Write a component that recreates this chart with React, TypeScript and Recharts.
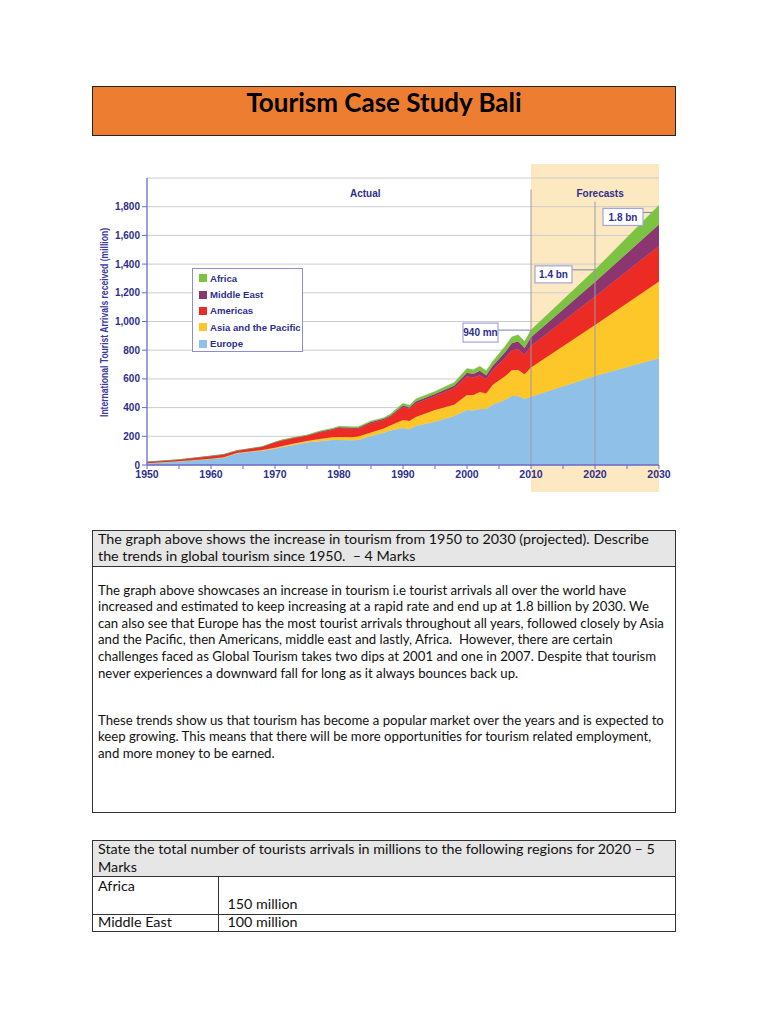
import React from 'react';
import {
  ComposedChart,
  Area,
  XAxis,
  YAxis,
  CartesianGrid,
  ReferenceLine,
  ReferenceDot,
  ReferenceArea,
  Legend,
} from 'recharts';

// ---------- data (millions of international tourist arrivals) ----------
const years = [
  1950, 1955, 1960, 1962, 1964, 1966, 1968, 1970, 1971, 1973, 1975, 1977, 1979, 1980,
  1982, 1983, 1985, 1987, 1988, 1990, 1991, 1992, 1995, 1998, 2000, 2001, 2002, 2003,
  2004, 2006, 2007, 2008, 2009, 2010, 2020, 2030,
];
const europe = [
  12, 25, 42, 51, 80, 90, 100, 114, 124, 140, 156, 165, 174, 175,
  172, 175, 202, 225, 240, 258, 249, 272, 302, 342, 384, 380, 390, 390,
  420, 455, 480, 480, 460, 475, 620, 744,
];
const asiaPacific = [
  1, 1.5, 2, 2.5, 3, 4, 5, 6, 7, 9, 12, 16, 19, 20,
  22, 23, 25, 30, 35, 56, 57, 62, 82, 77, 104, 108, 118, 108,
  138, 165, 180, 182, 172, 204, 355, 535,
];
const americas = [
  7, 9.5, 17, 18.5, 15, 18, 20, 36, 38, 38, 35, 46, 52, 62,
  59, 55, 64, 59, 61, 90, 86, 94, 97, 115, 128, 122, 118, 100,
  102, 128, 140, 145, 134, 150, 199, 248,
];
const middleEast = [
  0.5, 0.5, 1, 1, 1, 1, 1.5, 2, 2.5, 3, 3, 5, 5.5, 6.5,
  7, 7, 8, 8, 8, 11, 9, 14, 13, 18, 27, 25, 31, 28,
  30, 42, 48, 54, 50, 61, 101, 149,
];
const africa = [
  0.5, 0.5, 1, 1, 1, 1, 1.5, 2, 2.5, 3, 3, 5, 5.5, 6.5,
  7, 7, 8, 8, 9, 15, 15, 18, 18, 23, 29, 28, 31, 30,
  31, 40, 44, 46, 44, 50, 85, 134,
];

const seriesKeys = ['europe', 'asia', 'americas', 'middleEast', 'africa'];
const seriesNames = ['Europe', 'Asia and the Pacific', 'Americas', 'Middle East', 'Africa'];
const seriesColors = ['#8fc1e8', '#fdc72a', '#ec2b25', '#8b3671', '#7cc243'];
const seriesValues = [europe, asiaPacific, americas, middleEast, africa];

const yTicks = [0, 200, 400, 600, 800, 1000, 1200, 1400, 1600, 1800];
const xTicks = [
  1950, 1955, 1960, 1965, 1970, 1975, 1980, 1985, 1990, 1995, 2000, 2005, 2010, 2015,
  2020, 2025, 2030,
];
const forecastStart = 2010;
const forecastEnd = 2030;
const callouts = [
  { year: 2010, value: 940, text: '940 mn', boxW: 35, gap: 33, endGap: 0, boxDy: -7, boxH: 19 },
  { year: 2020, value: 1360, text: '1.4 bn', boxW: 37, gap: 23, endGap: 0, boxDy: -4, boxH: 17 },
  { year: 2030, value: 1760, text: '1.8 bn', boxW: 40, gap: 16, endGap: 7, boxDy: -4, boxH: 17 },
];
const periodLabels = [
  { year: 1984.1, value: 1865, text: 'Actual' },
  { year: 2020.8, value: 1865, text: 'Forecasts' },
];

const data = years.map((y, i) => {
  const row: any = { year: y };
  seriesKeys.forEach((k, s) => {
    row[k] = seriesValues[s][i];
  });
  return row;
});

const NAVY = '#2e2f8c';
const AXIS = '#6b6bc8';
const CHART_FONT = '"Liberation Sans", Arial, sans-serif';
const DOC_FONT = 'Lato, "Open Sans", sans-serif';

const renderLegend = (props: any) => {
  const payload = props.payload || [];
  // legend order: top of stack first
  const items = seriesNames
    .map((n, i) => {
      const p = payload.find((it: any) => it.value === n);
      return { value: n, color: (p && p.color) || seriesColors[i] };
    })
    .reverse();
  return (
    <div
      style={{
        width: 111,
        height: 84,
        boxSizing: 'border-box',
        border: '1px solid #8d8dd4',
        background: '#ffffff',
        paddingTop: 1,
        fontFamily: CHART_FONT,
        fontWeight: 700,
        fontSize: 9.6,
        color: NAVY,
        whiteSpace: 'nowrap',
        textAlign: 'left',
      }}
    >
      {items.map((it: any) => (
        <div key={it.value} style={{ height: 16.4, display: 'flex', alignItems: 'center' }}>
          <span
            style={{
              display: 'inline-block',
              flex: '0 0 auto',
              width: 8,
              height: 8,
              background: it.color,
              marginLeft: 6,
              marginRight: 3,
            }}
          />
          <span>{it.value}</span>
        </div>
      ))}
    </div>
  );
};

const makeCallout = (c: any) => (p: any) => {
  const { cx, cy } = p;
  if (cx == null || cy == null) return <g />;
  const right = cx - c.gap;
  const left = right - c.boxW;
  return (
    <g>
      <line x1={right} y1={cy} x2={cx - c.endGap} y2={cy} stroke="#7f7fae" strokeWidth={1} />
      <rect
        x={left}
        y={cy + c.boxDy}
        width={c.boxW}
        height={c.boxH}
        fill="#ffffff"
        stroke="#a4a4da"
        strokeWidth={1.2}
      />
      <text
        x={left + c.boxW / 2}
        y={cy + c.boxDy + c.boxH / 2 + 3.6}
        textAnchor="middle"
        fontFamily={CHART_FONT}
        fontWeight={700}
        fontSize={10}
        fill={NAVY}
      >
        {c.text}
      </text>
    </g>
  );
};

const makePeriodLabel = (l: any) => (p: any) => {
  const { cx, cy } = p;
  if (cx == null || cy == null) return <g />;
  return (
    <text
      x={cx}
      y={cy}
      textAnchor="middle"
      fontFamily={CHART_FONT}
      fontWeight={700}
      fontSize={10}
      fill={NAVY}
    >
      {l.text}
    </text>
  );
};

const ForecastShade = (p: any) => {
  const { x, y, width, height } = p;
  if (x == null) return <g />;
  return <rect x={x} y={y - 14} width={width} height={height + 41} fill="#fde9c1" />;
};

const Chart = () => (
  <ComposedChart
    width={600}
    height={340}
    data={data}
    margin={{ top: 18, right: 31, bottom: 5, left: 12 }}
    style={{ fontFamily: CHART_FONT }}
  >
    <ReferenceArea
      x1={forecastStart}
      x2={forecastEnd}
      y1={0}
      y2={2000}
      ifOverflow="visible"
      shape={ForecastShade}
      zIndex={-200}
    />
    <CartesianGrid vertical={false} stroke="#cccccc" strokeWidth={1} />
    <XAxis
      dataKey="year"
      type="number"
      domain={[1950, 2030]}
      ticks={xTicks}
      interval={0}
      height={30}
      tickSize={4}
      tickMargin={2}
      tickFormatter={(v: number) => (v % 10 === 0 ? String(v) : '')}
      axisLine={{ stroke: AXIS, strokeWidth: 1.3 }}
      tickLine={{ stroke: AXIS }}
      tick={{ fill: NAVY, fontSize: 10.5, fontWeight: 700 }}
    />
    <YAxis
      type="number"
      domain={[0, 2000]}
      ticks={yTicks}
      interval={0}
      width={45}
      tickSize={5}
      tickMargin={2}
      tickFormatter={(v: number) => v.toLocaleString('en-US')}
      axisLine={{ stroke: AXIS, strokeWidth: 1.3 }}
      tickLine={{ stroke: AXIS }}
      tick={{ fill: NAVY, fontSize: 10, fontWeight: 700 }}
    />
    {seriesKeys.map((k, i) => (
      <Area
        key={k}
        type="linear"
        dataKey={k}
        name={seriesNames[i]}
        stackId="tourism"
        fill={seriesColors[i]}
        fillOpacity={1}
        stroke={seriesColors[i]}
        strokeWidth={0.5}
        isAnimationActive={false}
        dot={false}
        activeDot={false}
      />
    ))}
    <ReferenceLine
      segment={[
        { x: 2010, y: 1920 },
        { x: 2010, y: 0 },
      ]}
      stroke="#9b9b9b"
      strokeWidth={1}
    />
    <ReferenceLine
      segment={[
        { x: 2020, y: 1835 },
        { x: 2020, y: 0 },
      ]}
      stroke="#9b9b9b"
      strokeWidth={1}
    />
    {callouts.map((c) => (
      <ReferenceDot key={c.text} x={c.year} y={c.value} r={1} shape={makeCallout(c)} ifOverflow="visible" />
    ))}
    {periodLabels.map((l) => (
      <ReferenceDot key={l.text} x={l.year} y={l.value} r={1} shape={makePeriodLabel(l)} ifOverflow="visible" />
    ))}
    <Legend
      layout="vertical"
      align="center"
      verticalAlign="middle"
      content={renderLegend}
      wrapperStyle={{ left: 102, top: 108, width: 111, height: 84 }}
    />
  </ComposedChart>
);

// ---------- document text ----------
const questionLines1 = [
  'The graph above shows the increase in tourism from 1950 to 2030 (projected). Describe',
  'the trends in global tourism since 1950.  \u2013 4 Marks',
];
const answerLines = [
  'The graph above showcases an increase in tourism i.e tourist arrivals all over the world have',
  'increased and estimated to keep increasing at a rapid rate and end up at 1.8 billion by 2030. We',
  'can also see that Europe has the most tourist arrivals throughout all years, followed closely by Asia',
  'and the Pacific, then Americans, middle east and lastly, Africa.  However, there are certain',
  'challenges faced as Global Tourism takes two dips at 2001 and one in 2007. Despite that tourism',
  'never experiences a downward fall for long as it always bounces back up.',
  'These trends show us that tourism has become a popular market over the years and is expected to',
  'keep growing. This means that there will be more opportunities for tourism related employment,',
  'and more money to be earned.',
];
const answerBaselines = [594.5, 611.1, 627.7, 644.3, 660.9, 677.5, 724.5, 741.1, 757.7];
const questionLines2 = [
  'State the total number of tourists arrivals in millions to the following regions for 2020 \u2013 5',
  'Marks',
];
const regionRows = ['Africa', 'Middle East'];
const regionAnswers = ['150 million', '100 million'];

const BOX_L = 92;
const BOX_W = 584;

export default function App() {
  return (
    <div
      style={{
        position: 'absolute',
        left: 0,
        top: 0,
        width: 768,
        height: 1024,
        background: '#ffffff',
        overflow: 'hidden',
      }}
    >
      {/* title box */}
      <div
        style={{
          position: 'absolute',
          left: BOX_L,
          top: 86,
          width: BOX_W,
          height: 50,
          boxSizing: 'border-box',
          border: '1px solid #222',
          background: '#ed7d31',
        }}
      />
      {/* question 1 box */}
      <div
        style={{
          position: 'absolute',
          left: BOX_L,
          top: 530,
          width: BOX_W,
          height: 37,
          boxSizing: 'border-box',
          border: '1px solid #333',
          background: '#e7e6e6',
        }}
      />
      <div
        style={{
          position: 'absolute',
          left: BOX_L,
          top: 566,
          width: BOX_W,
          height: 247,
          boxSizing: 'border-box',
          border: '1px solid #333',
          background: '#ffffff',
        }}
      />
      {/* question 2 table */}
      <div
        style={{
          position: 'absolute',
          left: BOX_L,
          top: 840,
          width: BOX_W,
          height: 37,
          boxSizing: 'border-box',
          border: '1px solid #333',
          background: '#e7e6e6',
        }}
      />
      <div
        style={{
          position: 'absolute',
          left: BOX_L,
          top: 876,
          width: BOX_W,
          height: 56,
          boxSizing: 'border-box',
          border: '1px solid #333',
          borderTop: 'none',
        }}
      />
      <div style={{ position: 'absolute', left: BOX_L, top: 913.5, width: BOX_W, height: 1, background: '#333' }} />
      <div style={{ position: 'absolute', left: 218, top: 876, width: 1, height: 56, background: '#333' }} />

      {/* chart */}
      <div style={{ position: 'absolute', left: 90, top: 160, width: 600, height: 340 }}>
        <Chart />
      </div>

      {/* text overlay */}
      <svg
        width={768}
        height={1024}
        style={{ position: 'absolute', left: 0, top: 0, pointerEvents: 'none' }}
      >
        <text
          x={384}
          y={112}
          textAnchor="middle"
          fontFamily={DOC_FONT}
          fontWeight={700}
          fontSize={26}
          fill="#000"
        >
          Tourism Case Study Bali
        </text>
        <text
          transform="translate(108.3 322.5) rotate(-90)"
          textAnchor="middle"
          fontFamily={CHART_FONT}
          fontWeight={700}
          fontSize={10}
          fill="#3a3aa0"
          textLength={189}
          lengthAdjust="spacingAndGlyphs"
        >
          International Tourist Arrivals received (million)
        </text>
        <g fontFamily={DOC_FONT} fill="#111">
          {questionLines1.map((t, i) => (
            <text key={'q1' + i} x={98} y={543.5 + i * 17.6} fontSize={14.3} style={{ whiteSpace: 'pre' }}>
              {t}
            </text>
          ))}
          {answerLines.map((t, i) => (
            <text key={'a' + i} x={98} y={answerBaselines[i]} fontSize={13.2} style={{ whiteSpace: 'pre' }}>
              {t}
            </text>
          ))}
          <g fontSize={14.3}>
            {questionLines2.map((t, i) => (
              <text key={'q2' + i} x={98} y={854.3 + i * 18} style={{ whiteSpace: 'pre' }}>
                {t}
              </text>
            ))}
            <text x={98} y={891}>
              {regionRows[0]}
            </text>
            <text x={227.5} y={909}>
              {regionAnswers[0]}
            </text>
            <text x={98} y={926.7}>
              {regionRows[1]}
            </text>
            <text x={227.5} y={926.7}>
              {regionAnswers[1]}
            </text>
          </g>
        </g>
      </svg>
    </div>
  );
}
